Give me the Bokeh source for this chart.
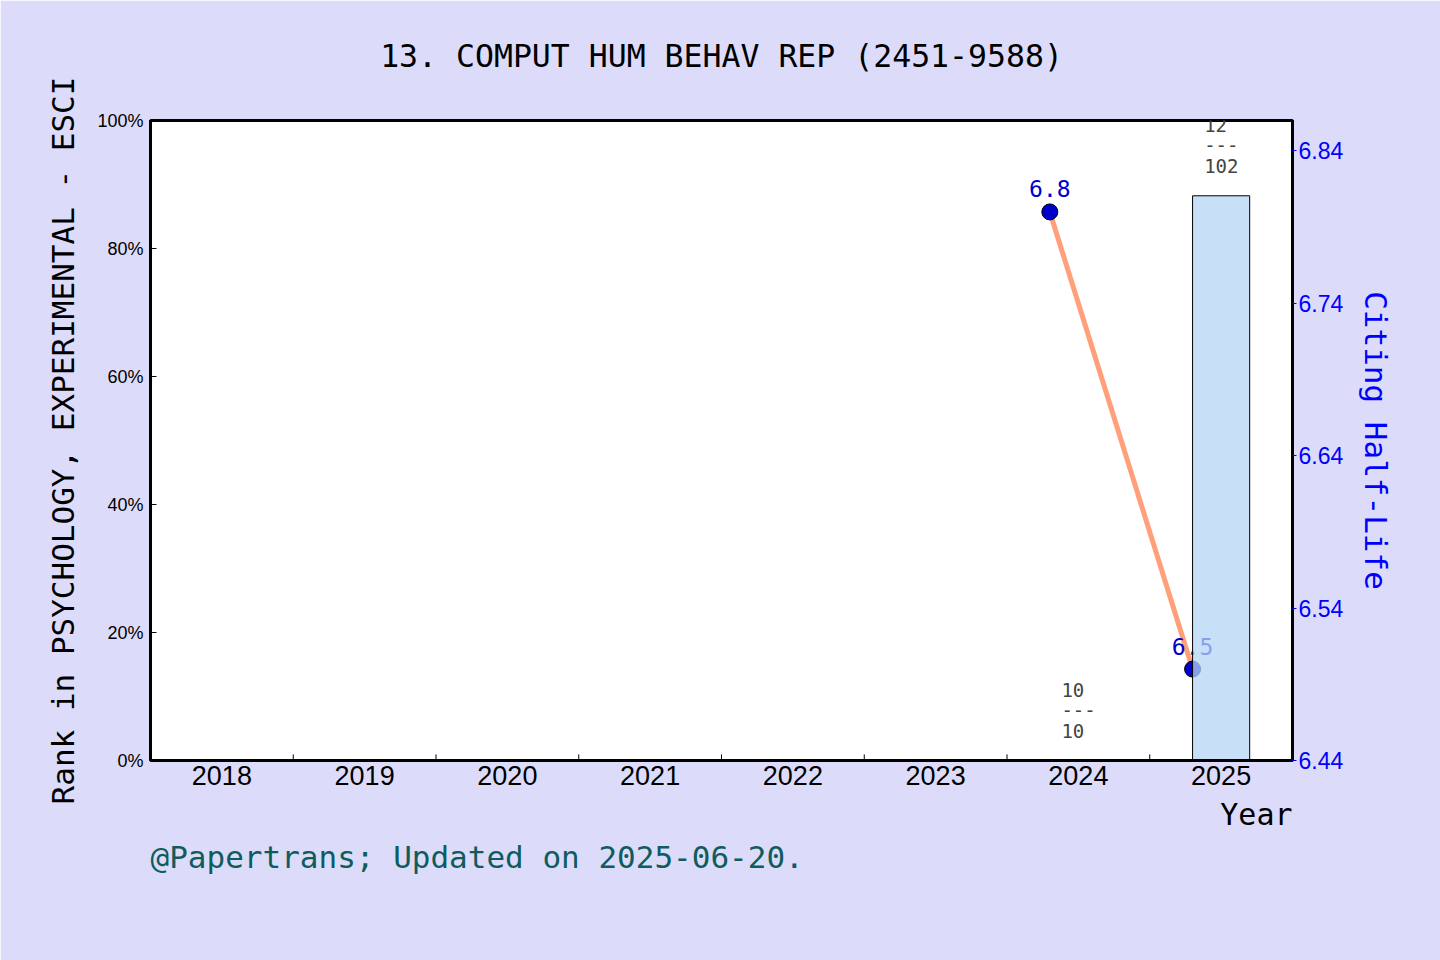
from bokeh.plotting import figure
from bokeh.models import (FactorRange, Range1d, LinearAxis, FixedTicker,
                          PrintfTickFormatter, ColumnDataSource, LabelSet, Title)
from bokeh.transform import dodge
from bokeh.core.properties import value
from bokeh.embed import file_html
from bokeh.resources import INLINE

# ---- data ----
years = ["2018", "2019", "2020", "2021", "2022", "2023", "2024", "2025"]
rank_years = ["2024", "2025"]
ranks = [10, 12]
totals = [10, 102]
hl_years = ["2024", "2025"]
half_life = [6.8, 6.5]
hl_labels = ["6.8", "6.5"]
left_ticks = [0, 20, 40, 60, 80, 100]
right_ticks = [6.44, 6.54, 6.64, 6.74, 6.84]
right_range = (6.44, 6.86)
boundary_years = years[:-1]

title_text = "13. COMPUT HUM BEHAV REP (2451-9588)"
ylabel = "Rank in PSYCHOLOGY, EXPERIMENTAL - ESCI"
y2label = "Citing Half-Life"
xlabel = "Year"
footer = "@Papertrans; Updated on 2025-06-20."

MONO = "DejaVu Sans Mono"
SANS = "Liberation Sans"
BG = "#DCDCFA"

pct = [(1 - r / t) * 100 for r, t in zip(ranks, totals)]
bar_labels = [f"{r}\n---\n{t}" for r, t in zip(ranks, totals)]

bar_src = ColumnDataSource(dict(year=rank_years, pct=pct, lab=bar_labels))
hl_src = ColumnDataSource(dict(year=hl_years, hl=half_life, lab=hl_labels))
tick_src = ColumnDataSource(dict(year=boundary_years,
                                 y0=[0] * len(boundary_years),
                                 y1=[0.95] * len(boundary_years)))

p = figure(width=1440, height=960,
           x_range=FactorRange(*years, range_padding=0),
           y_range=Range1d(left_ticks[0], left_ticks[-1]),
           output_backend="svg", toolbar_location=None,
           background_fill_color="white", border_fill_color=BG,
           min_border_left=150, min_border_right=148,
           min_border_top=120, min_border_bottom=200)
p.extra_y_ranges = {"hl": Range1d(*right_range)}

p.xgrid.visible = False
p.ygrid.visible = False
p.outline_line_color = "black"
p.outline_line_width = 3
p.outline_line_alpha = 1

# title (a thin spacer panel sits between the frame and the title)
p.add_layout(Title(text=" ", text_font_size="2px", standoff=23), "above")
p.title.text = title_text
p.title.align = "center"
p.title.text_font = MONO
p.title.text_font_size = "31.5px"
p.title.text_font_style = "normal"
p.title.text_color = "black"
p.title.standoff = 40

# x axis
xa = p.below[0]
xa.major_tick_line_color = None
xa.minor_tick_line_color = None
xa.major_tick_out = 0
xa.major_tick_in = 0
xa.major_label_standoff = 5
xa.major_label_text_font = SANS
xa.major_label_text_font_size = "27px"
xa.major_label_text_color = "black"
xa.axis_line_color = "black"
xa.axis_line_width = 3

# left axis
ya = p.left[0]
ya.ticker = FixedTicker(ticks=left_ticks)
ya.formatter = PrintfTickFormatter(format="%d%%")
ya.major_tick_in = 6
ya.major_tick_out = 0
ya.minor_tick_line_color = None
ya.major_label_standoff = 7
ya.major_label_text_font = SANS
ya.major_label_text_font_size = "18px"
ya.major_label_text_color = "black"
ya.axis_line_color = "black"
ya.axis_line_width = 3
ya.axis_label = ylabel
ya.axis_label_text_font = MONO
ya.axis_label_text_font_size = "31px"
ya.axis_label_text_font_style = "normal"
ya.axis_label_text_color = "black"
ya.axis_label_standoff = 13

# right axis
ra = LinearAxis(y_range_name="hl", ticker=FixedTicker(ticks=right_ticks),
                formatter=PrintfTickFormatter(format="%.2f"))
ra.major_tick_in = 0
ra.major_tick_out = 4
ra.major_tick_line_color = "blue"
ra.minor_tick_line_color = None
ra.major_label_standoff = 2
ra.major_label_text_font = SANS
ra.major_label_text_font_size = "23px"
ra.major_label_text_color = "blue"
ra.axis_line_color = "black"
ra.axis_line_width = 3
ra.axis_label = y2label
ra.axis_label_text_font = MONO
ra.axis_label_text_font_size = "31px"
ra.axis_label_text_font_style = "normal"
ra.axis_label_text_color = "blue"
ra.axis_label_standoff = 12
p.add_layout(ra, "right")

# inward ticks between categories
p.segment(x0=dodge("year", 0.5, range=p.x_range), y0="y0",
          x1=dodge("year", 0.5, range=p.x_range), y1="y1",
          source=tick_src, line_color="black", line_width=1)

# half-life line and points
xs = dodge("year", -0.2, range=p.x_range)
p.line(x=xs, y="hl", source=hl_src, y_range_name="hl",
       line_color="#FFA07A", line_width=5)
p.scatter(x=xs, y="hl", source=hl_src, y_range_name="hl", size=16,
          fill_color="#0000CD", line_color="black", line_width=1)
p.text(x=xs, y="hl", text="lab", source=hl_src, y_range_name="hl",
       text_align="center", text_baseline="alphabetic", y_offset=-23,
       text_font=value(MONO), text_font_size="23px", text_color="#0000CD")

# rank bars
p.vbar(x="year", top="pct", bottom=0, width=0.4, source=bar_src,
       fill_color=(180, 213, 245), fill_alpha=0.75,
       line_color="black", line_width=1)
p.add_layout(LabelSet(x="year", y="pct", text="lab", source=bar_src,
                      text_align="left", text_baseline="bottom",
                      x_offset=-17, y_offset=19, text_line_height=0.93,
                      text_font=value(MONO), text_font_size="19px",
                      text_color="#444444"))

# x label and footer as titles below
p.add_layout(Title(text=xlabel, align="right", text_font=MONO,
                   text_font_size="30px", text_font_style="normal",
                   text_color="black", standoff=15), "below")
p.add_layout(Title(text=footer, align="left", text_font=MONO,
                   text_font_size="31px", text_font_style="normal",
                   text_color="#0E5C5C", standoff=-6), "below")

open("out.html", "w").write(file_html(p, INLINE))
